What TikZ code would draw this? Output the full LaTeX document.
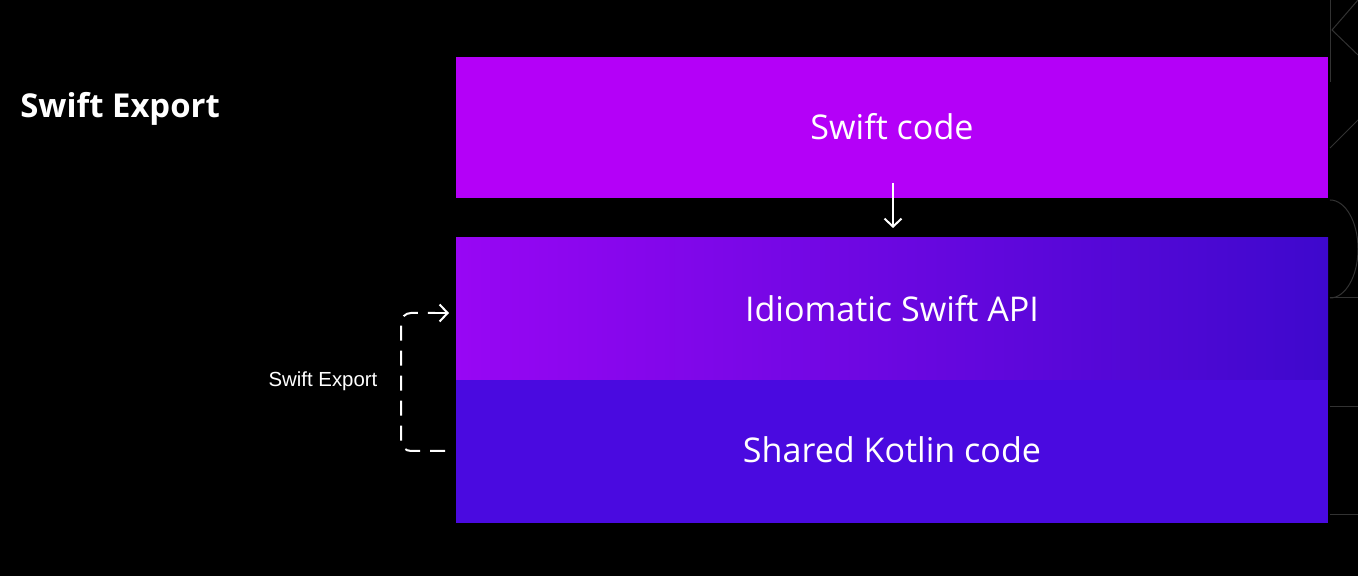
\documentclass[tikz,border=0pt]{standalone}
\usepackage{fontspec}
\setmainfont{Open Sans}
\newfontfamily\labelfont{Liberation Sans}
\usepackage{tikz}
\usetikzlibrary{calc}
\usetikzlibrary{arrows.meta}

\definecolor{swiftpink}{RGB}{180,0,248}
\definecolor{apitop}{RGB}{152,6,244}
\definecolor{apiright}{RGB}{62,8,205}
\definecolor{kotlinblue}{RGB}{74,10,224}
\definecolor{decogray}{RGB}{50,50,50}

\tikzset{
  layerbox/.style={inner sep=0pt, outer sep=0pt},
  layertext/.style={text=white, font=\fontsize{19.4}{23}\selectfont},
  flowarrow/.style={white, line width=0.04cm, -{Straight Barb[length=0.16cm,width=0.34cm]}},
  bracketline/.style={white, line width=0.04cm, dash pattern=on 0.3cm off 0.2cm, rounded corners=0.2cm}
}

\begin{document}
\begin{tikzpicture}
        \useasboundingbox[fill=black] (0.000000,0.000000) rectangle (27.160000,11.520000);%
        {\footnotesize

        % Faint lines at the right edge
        \draw [decogray, line width=0.02cm] (27.160000,11.520000) -- (26.640000,10.920000) -- (27.160000,10.420000);%
        \draw [decogray, line width=0.02cm] (26.600000,11.520000) -- (26.600000,9.880000);%
        \draw [decogray, line width=0.02cm] (26.600000,8.560000) -- (27.160000,9.120000);%
        \draw [decogray, line width=0.02cm] (26.600000,7.520000) arc (90:0:0.560000 and 0.980000) arc (0:-90:0.560000 and 0.980000);%
        \draw [decogray, line width=0.02cm] (26.600000,5.560000) -- (27.160000,5.560000);%
        \draw [decogray, line width=0.02cm] (26.600000,3.380000) -- (27.160000,3.380000);%
        \draw [decogray, line width=0.02cm] (26.600000,1.220000) -- (27.160000,1.220000);%

        % Title
        \node [anchor=base west, inner sep=0pt, text=white, font=\bfseries\fontsize{18.7}{22}\selectfont] (title) at (0.400000,9.160000) {Swift Export};%

        % Drawing layer Swift code
        \fill [swiftpink] (9.120000,7.560000) rectangle (26.560000,10.380000);%
        \node [layerbox, minimum width=17.440000cm, minimum height=2.820000cm] (swiftcode) at (17.840000,8.970000) {};%
        \node [layertext] (swiftcodetext) at (17.840000,8.980000) {Swift code};%

        % Drawing layer Idiomatic Swift API
        \shade [left color=apitop, right color=apiright] (9.120000,3.920000) rectangle (26.560000,6.760000);%
        \node [layerbox, minimum width=17.440000cm, minimum height=2.840000cm] (swiftapi) at (17.840000,5.340000) {};%
        \node [layertext] (swiftapitext) at (17.840000,5.340000) {Idiomatic Swift API};%

        % Drawing layer Shared Kotlin code
        \fill [kotlinblue] (9.120000,1.060000) rectangle (26.560000,3.920000);%
        \node [layerbox, minimum width=17.440000cm, minimum height=2.860000cm] (kotlin) at (17.840000,2.490000) {};%
        \node [layertext] (kotlintext) at (17.840000,2.520000) {Shared Kotlin code};%

        % Arrow from Swift code to the API
        \coordinate (arrowstart) at (17.860000,7.860000);%
        \draw [flowarrow] (arrowstart) -- ($(arrowstart |- swiftapi.north)+(0,0.200000)$);%

        % Drawing Swift Export bracket
        \coordinate (brackettop) at (8.980000,5.260000);%
        \coordinate (bracketbottom) at (8.900000,2.500000);%
        \draw [bracketline] (bracketbottom) -- (8.020000,2.500000) -- (8.020000,5.260000) -- (8.700000,5.260000);%
        \draw [flowarrow] (8.700000,5.260000) -- (brackettop);%
        \node [text=white, font=\labelfont\fontsize{11.6}{14}\selectfont] (exportlabel) at (6.460000,3.900000) {Swift Export};%
        }
    \end{tikzpicture}
\end{document}
